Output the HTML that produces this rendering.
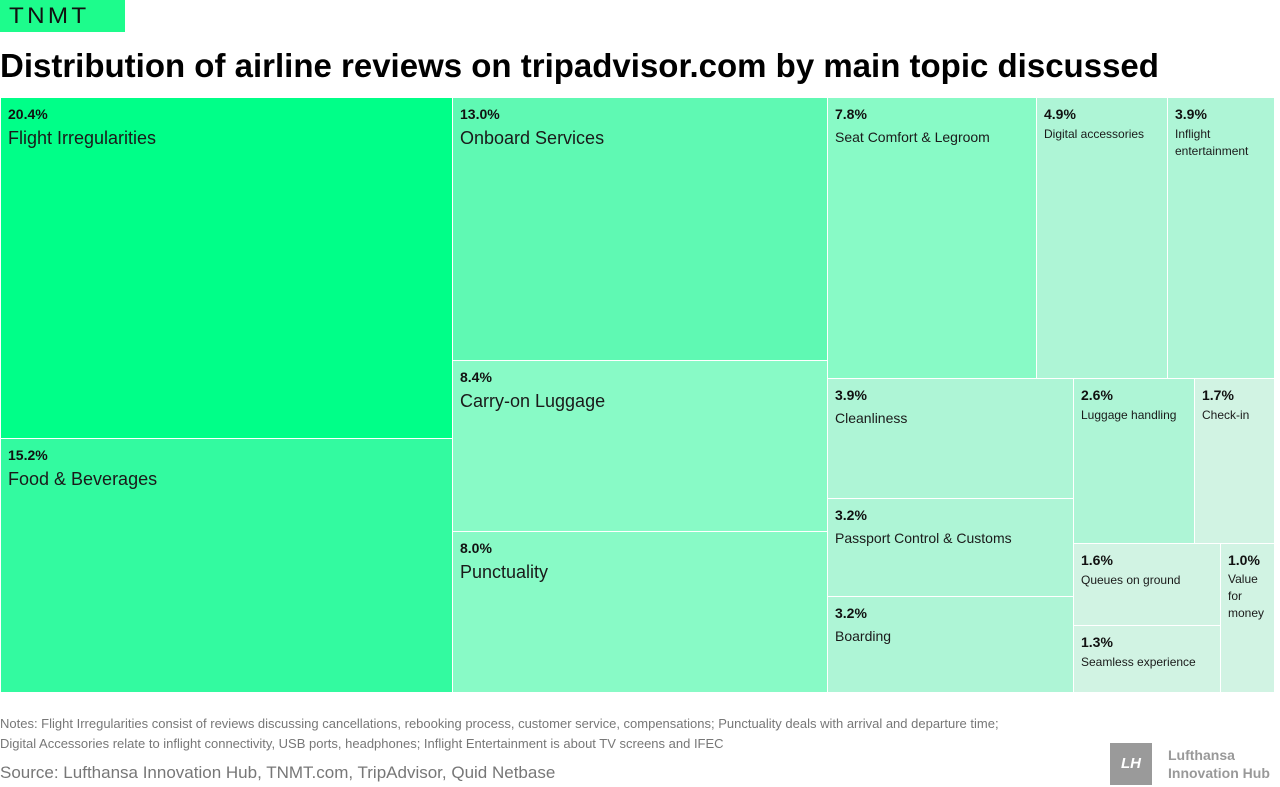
<!DOCTYPE html><html><head><style>
body{margin:0;width:1280px;height:787px;background:#fff;font-family:"Liberation Sans",sans-serif;position:relative;overflow:hidden}
.r{position:absolute;box-sizing:border-box;border:1px solid #fff;color:#111}
.p{position:absolute;left:7px;top:8px;font-weight:bold;font-size:14px}
.l{position:absolute;left:7px;top:30px;font-size:18px;color:#1a1a1a}
.s .l{font-size:13px;top:31px;line-height:17px}
.s .p{font-size:14px}
.c1{background:#00ff88}.c2{background:#33faa0}.c3{background:#5ff9b3}.c4{background:#88fac6}.c5{background:#aef5d6}.c6{background:#d1f3e3}
</style></head><body>
<div style="position:absolute;left:0;top:0;width:125px;height:32px;background:#1dfc8c;box-sizing:border-box;color:#111"><span style="position:absolute;left:9px;top:0;font-size:22px;letter-spacing:3px;line-height:32px;display:inline-block;transform:scaleX(1.1);transform-origin:left">TNMT</span></div>
<div style="position:absolute;left:0;top:47px;font-size:33px;font-weight:bold;letter-spacing:0px;color:#000;white-space:nowrap">Distribution of airline reviews on tripadvisor.com by main topic discussed</div>

<div class="r c1" style="left:0;top:97px;width:453px;height:342px"><div class="p">20.4%</div><div class="l">Flight Irregularities</div></div>
<div class="r c2" style="left:0;top:438px;width:453px;height:255px"><div class="p">15.2%</div><div class="l">Food &amp; Beverages</div></div>
<div class="r c3" style="left:452px;top:97px;width:376px;height:264px"><div class="p">13.0%</div><div class="l">Onboard Services</div></div>
<div class="r c4" style="left:452px;top:360px;width:376px;height:172px"><div class="p">8.4%</div><div class="l">Carry-on Luggage</div></div>
<div class="r c4" style="left:452px;top:531px;width:376px;height:162px"><div class="p">8.0%</div><div class="l">Punctuality</div></div>
<div class="r c4 s" style="left:827px;top:97px;width:210px;height:282px"><div class="p">7.8%</div><div class="l" style="font-size:14px">Seat Comfort &amp; Legroom</div></div>
<div class="r c5 s" style="left:1036px;top:97px;width:132px;height:282px"><div class="p">4.9%</div><div class="l" style="font-size:12px;top:28px">Digital accessories</div></div>
<div class="r c5 s" style="left:1167px;top:97px;width:108px;height:282px"><div class="p">3.9%</div><div class="l" style="font-size:12px;top:28px">Inflight<br>entertainment</div></div>
<div class="r c5 s" style="left:827px;top:378px;width:247px;height:121px"><div class="p">3.9%</div><div class="l" style="font-size:14px">Cleanliness</div></div>
<div class="r c5 s" style="left:827px;top:498px;width:247px;height:99px"><div class="p">3.2%</div><div class="l" style="font-size:14px">Passport Control &amp; Customs</div></div>
<div class="r c5 s" style="left:827px;top:596px;width:247px;height:97px"><div class="p">3.2%</div><div class="l" style="font-size:14px">Boarding</div></div>
<div class="r c5 s" style="left:1073px;top:378px;width:122px;height:166px"><div class="p">2.6%</div><div class="l" style="font-size:12px;top:28px">Luggage handling</div></div>
<div class="r c6 s" style="left:1194px;top:378px;width:81px;height:166px"><div class="p">1.7%</div><div class="l" style="font-size:12px;top:28px">Check-in</div></div>
<div class="r c6 s" style="left:1073px;top:543px;width:148px;height:83px"><div class="p">1.6%</div><div class="l" style="font-size:12px;top:28px">Queues on ground</div></div>
<div class="r c6 s" style="left:1073px;top:625px;width:148px;height:68px"><div class="p">1.3%</div><div class="l" style="font-size:12px;top:28px">Seamless experience</div></div>
<div class="r c6 s" style="left:1220px;top:543px;width:55px;height:150px"><div class="p">1.0%</div><div class="l" style="font-size:12px;top:27px">Value<br>for<br>money</div></div>

<div style="position:absolute;left:0;top:714px;font-size:13px;color:#777;line-height:20px">Notes: Flight Irregularities consist of reviews discussing cancellations, rebooking process, customer service, compensations; Punctuality deals with arrival and departure time;<br>Digital Accessories relate to inflight connectivity, USB ports, headphones; Inflight Entertainment is about TV screens and IFEC</div>
<div style="position:absolute;left:0;top:763px;font-size:17px;color:#777">Source: Lufthansa Innovation Hub, TNMT.com, TripAdvisor, Quid Netbase</div>
<div style="position:absolute;left:1110px;top:743px;width:42px;height:42px;background:#9a9a9a;color:#fff;font-style:italic;font-weight:bold;font-size:15px;line-height:42px;text-align:center">LH</div>
<div style="position:absolute;left:1168px;top:746px;font-size:14px;font-weight:bold;color:#999;line-height:18px">Lufthansa<br>Innovation Hub</div>
</body></html>
